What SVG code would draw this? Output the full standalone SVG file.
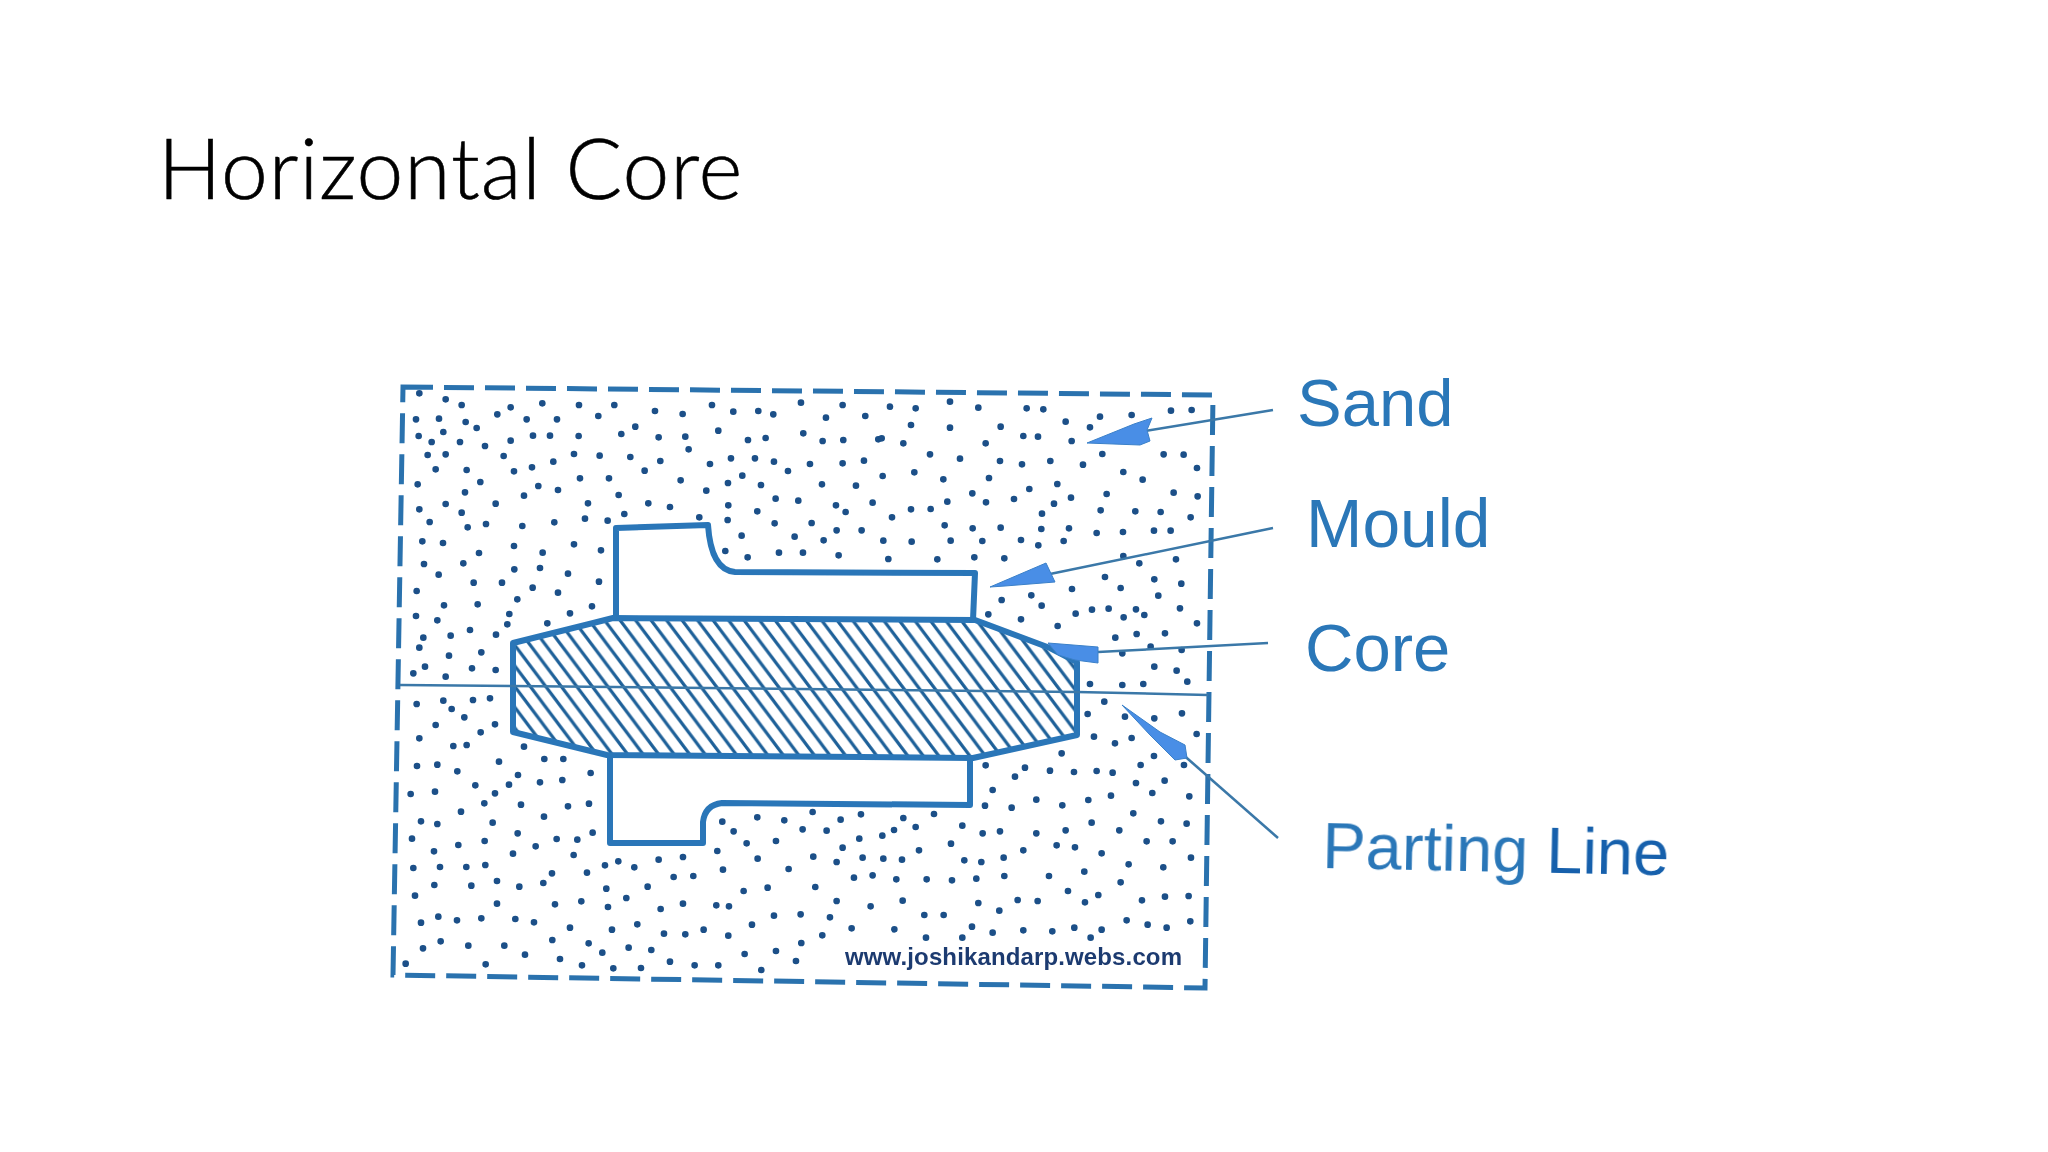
<svg xmlns="http://www.w3.org/2000/svg" width="2048" height="1152" viewBox="0 0 2048 1152">
<style>
.lbl{font-family:"Liberation Sans",Arial,sans-serif;fill:#2b77b8}
.dots{fill:none;stroke:#1a5088;stroke-width:20;stroke-linecap:round}
.edge{fill:none;stroke:#2a76b8;stroke-width:6;stroke-linejoin:round}
.lead{fill:none;stroke:#3a78a8;stroke-width:2.500}
.head{fill:#4a8ee6;stroke:#3a80c8;stroke-width:1}
</style>
<defs>
<filter id="soft" x="-2%" y="-2%" width="104%" height="104%"><feGaussianBlur stdDeviation="0.7"/></filter>
<clipPath id="coreClip"><path d="M513 643L613 618L975 620L1077 662V735L973 758L607 755L513 732Z"/></clipPath>
<pattern id="hatch" width="15.500" height="20.670" patternUnits="userSpaceOnUse">
<path d="M-1.500 -2L17 22.670M14 -2L32.500 22.670M-17 -2L1.500 22.670" stroke="#1f6199" stroke-width="3.200" fill="none"/>
</pattern>
</defs>
<rect width="2048" height="1152" fill="#fff"/>
<text id="title" x="158" y="199" font-family="Lato,'Open Sans',sans-serif" font-weight="300" font-size="84" letter-spacing="0.950" stroke="#000" stroke-width="0.600" fill="#000">Horizontal Core</text>
<g filter="url(#soft)">
<g id="sand">
<path d="M403 387L1213 395L1205 988L393 975Z" fill="none" stroke="#2a72ae" stroke-width="5" stroke-dasharray="30 11"/>
<path class="dots" transform="translate(380,360) scale(.3333)" d="M118 100h.01M197 118h.01M245 135h.01M392 142h.01M352 163h.01M487 130h.01M597 135h.01M703 135h.01M825 153h.01M908 162h.01M996 135h.01M1060 155h.01M1135 153h.01M1180 163h.01M1263 128h.01M1338 173h.01M1388 135h.01M1456 168h.01M108 178h.01M177 176h.01M257 186h.01M290 204h.01M440 178h.01M531 178h.01M655 168h.01M766 200h.01M1015 212h.01M1270 220h.01M116 228h.01M190 216h.01M155 246h.01M240 246h.01M315 258h.01M392 242h.01M459 227h.01M510 227h.01M596 228h.01M724 222h.01M836 232h.01M916 230h.01M926 268h.01M1104 240h.01M1157 234h.01M1328 243h.01M1390 240h.01M1495 238h.01M143 285h.01M197 283h.01M371 288h.01M582 282h.01M659 287h.01M751 291h.01M841 303h.01M1053 295h.01M1125 295h.01M1182 305h.01M1290 312h.01M1388 310h.01M1452 302h.01M167 328h.01M260 330h.01M402 334h.01M456 322h.01M520 305h.01M794 332h.01M990 312h.01M1224 333h.01M1087 347h.01M113 373h.01M301 366h.01M475 378h.01M534 390h.01M600 355h.01M687 355h.01M902 361h.01M979 392h.01M1044 369h.01M1143 375h.01M1326 373h.01M1428 377h.01M255 397h.01M432 407h.01M716 405h.01M1187 416h.01M1255 422h.01M1368 436h.01M1478 428h.01M118 448h.01M197 432h.01M347 431h.01M624 430h.01M805 430h.01M870 441h.01M1045 436h.01M1132 454h.01M1397 456h.01M245 458h.01M149 486h.01M263 502h.01M318 492h.01M427 498h.01M523 487h.01M615 476h.01M683 482h.01M733 462h.01M958 472h.01M1043 480h.01M1184 490h.01M1295 489h.01M1370 511h.01M1445 511h.01M127 544h.01M189 549h.01M402 558h.01M582 553h.01M663 571h.01M1085 527h.01M1244 530h.01M1331 541h.01M297 579h.01M488 578h.01M1036 573h.01M1103 592h.01M1197 578h.01M1269 578h.01M1376 586h.01M250 610h.01M403 628h.01M480 624h.01M132 612h.01M176 644h.01M564 641h.01M281 668h.01M366 668h.01M657 665h.01M458 683h.01M110 693h.01M534 698h.01M412 718h.01M192 736h.01M293 733h.01M636 739h.01M570 760h.01M388 762h.01M108 768h.01M172 781h.01M382 793h.01M502 790h.01M270 810h.01M348 824h.01M212 827h.01M130 833h.01M118 863h.01M207 887h.01M304 877h.01"/>
<path class="dots" transform="translate(880,360) scale(.3333)" d="M30 140h.01M107 145h.01M210 125h.01M295 143h.01M440 145h.01M490 148h.01M660 170h.01M755 165h.01M873 152h.01M935 150h.01M557 185h.01M630 202h.01M93 195h.01M210 203h.01M362 200h.01M5 235h.01M70 250h.01M317 250h.01M430 228h.01M474 230h.01M575 243h.01M150 283h.01M240 296h.01M360 303h.01M426 313h.01M511 303h.01M609 314h.01M667 282h.01M851 283h.01M911 284h.01M951 324h.01M730 336h.01M788 359h.01M103 337h.01M8 348h.01M190 358h.01M327 354h.01M532 372h.01M448 387h.01M680 402h.01M881 398h.01M953 409h.01M277 400h.01M318 427h.01M402 417h.01M202 425h.01M573 413h.01M522 431h.01M93 448h.01M152 447h.01M36 472h.01M486 461h.01M662 451h.01M766 454h.01M842 456h.01M932 472h.01M194 496h.01M278 505h.01M362 503h.01M484 507h.01M567 505h.01M650 519h.01M729 516h.01M822 512h.01M872 512h.01M10 542h.01M95 545h.01M212 542h.01M307 543h.01M423 540h.01M475 556h.01M551 543h.01M25 597h.01M172 598h.01M283 592h.01M373 595h.01M888 598h.01M730 588h.01M778 610h.01M675 651h.01M823 658h.01M904 671h.01M722 684h.01M576 687h.01M835 707h.01M454 706h.01M365 720h.01M485 737h.01M325 763h.01M423 778h.01M587 761h.01M636 749h.01M686 746h.01M731 772h.01M768 748h.01M793 765h.01M900 745h.01M533 798h.01M951 790h.01M706 833h.01M770 822h.01M855 820h.01M812 860h.01M905 870h.01M727 880h.01"/>
<path class="dots" transform="translate(380,660) scale(.3333)" d="M100 40h.01M135 20h.01M197 50h.01M276 25h.01M347 30h.01M110 132h.01M190 122h.01M279 120h.01M330 115h.01M215 147h.01M253 172h.01M167 195h.01M345 193h.01M302 217h.01M118 235h.01M220 258h.01M260 255h.01M432 260h.01M493 297h.01M550 297h.01M357 305h.01M111 318h.01M172 314h.01M232 334h.01M632 339h.01M414 345h.01M480 367h.01M547 360h.01M387 374h.01M286 376h.01M345 400h.01M92 402h.01M165 395h.01M313 430h.01M423 434h.01M564 439h.01M627 431h.01M243 455h.01M492 470h.01M123 484h.01M172 492h.01M338 488h.01M413 520h.01M638 518h.01M96 536h.01M530 537h.01M592 539h.01M235 555h.01M314 543h.01M467 559h.01M162 574h.01M399 581h.01M581 585h.01M1027 485h.01M1061 514h.01M1132 472h.01M1213 481h.01M1268 508h.01M1340 512h.01M1382 479h.01M1443 463h.01M1298 456h.01M1100 550h.01M1188 543h.01M1438 536h.01M1388 563h.01M1012 573h.01M1133 596h.01M1300 590h.01M1448 593h.01M1370 606h.01M100 624h.01M180 621h.01M259 621h.01M316 615h.01M675 616h.01M715 604h.01M763 622h.01M836 599h.01M909 591h.01M1029 629h.01M1226 627h.01M516 640h.01M621 638h.01M881 651h.01M940 648h.01M1422 653h.01M1478 646h.01M163 675h.01M274 677h.01M351 663h.01M418 680h.01M490 669h.01M679 686h.01M803 680h.01M1091 693h.01M1163 683h.01M1306 681h.01M105 707h.01M351 731h.01M525 733h.01M604 724h.01M739 714h.01M684 741h.01M909 731h.01M1009 736h.01M1047 739h.01M842 747h.01M1370 723h.01M1472 739h.01M175 770h.01M304 775h.01M406 777h.01M462 787h.01M123 788h.01M231 781h.01M1182 767h.01M1262 763h.01M1350 772h.01M570 803h.01M772 793h.01M696 809h.01M1116 794h.01M1415 805h.01M852 821h.01M916 823h.01M971 809h.01M1045 827h.01M1327 826h.01M517 840h.01M182 844h.01M265 857h.01M373 857h.01M129 865h.01M626 850h.01M746 863h.01M814 870h.01M667 878h.01M1264 849h.01M1188 873h.01M1094 882h.01M435 884h.01M540 897h.01M870 905h.01M944 916h.01M1015 916h.01M1248 903h.01M606 916h.01M700 925h.01M783 924h.01M1144 930h.01M317 913h.01M77 911h.01"/>
<path class="dots" transform="translate(800,660) scale(.3333)" d="M1063 20h.01M1130 32h.01M1162 65h.01M870 72h.01M967 75h.01M1030 72h.01M913 125h.01M863 162h.01M1146 160h.01M1190 222h.01M995 234h.01M882 230h.01M945 250h.01M975 170h.01M1063 175h.01M785 280h.01M1062 288h.01M1022 315h.01M1152 315h.01M557 316h.01M675 323h.01M645 350h.01M750 332h.01M822 336h.01M890 333h.01M938 338h.01M1008 369h.01M1094 362h.01M1057 399h.01M578 390h.01M709 419h.01M787 436h.01M865 420h.01M933 407h.01M1168 409h.01M555 437h.01M635 443h.01M1000 460h.01M1083 484h.01M875 488h.01M1160 491h.01M310 474h.01M402 462h.01M347 501h.01M282 510h.01M487 497h.01M247 527h.01M548 520h.01M600 514h.01M709 520h.01M797 511h.01M958 511h.01M453 551h.01M1040 544h.01M1118 544h.01M770 556h.01M825 562h.01M670 571h.01M357 571h.01M905 580h.01M1173 593h.01M493 601h.01M544 606h.01M611 593h.01M250 596h.01M306 599h.01M986 613h.01M1090 622h.01M853 635h.01M289 658h.01M380 658h.01M456 661h.01M529 656h.01M613 648h.01M747 648h.01M962 667h.01M804 693h.01M895 705h.01M855 727h.01M308 722h.01M535 729h.01M653 720h.01M713 723h.01M1026 721h.01M1095 710h.01M1166 708h.01M598 752h.01M373 765h.01M431 765h.01M980 781h.01M1043 794h.01M1100 803h.01M1171 784h.01M283 808h.01M516 800h.01M670 811h.01M757 814h.01M823 803h.01M905 809h.01M578 818h.01M378 833h.01M487 833h.01M872 833h.01"/>
</g>
<g id="mould">
<path class="edge" d="M616 618V528L708 525Q711 570 735 572L975 573L973 620"/>
<path class="edge" d="M610 755V843H703V822Q705 805 722 803L970 805V758"/>
</g>
<g id="core">
<path d="M513 643L613 618L975 620L1077 662V735L973 758L607 755L513 732Z" fill="#fff"/>
<rect x="500" y="610" width="590" height="160" fill="url(#hatch)" clip-path="url(#coreClip)"/>
<path class="edge" d="M513 643L613 618L975 620L1050 648L1077 662V735L973 758L607 755L513 732Z"/>
</g>
<g id="connectors">
<path class="lead" d="M400 685L513 686"/>
<path class="lead" stroke-width="4" d="M513 686L1077 692"/>
<path class="lead" d="M1077 692L1208 695"/>
<path class="lead" d="M1273 410L1145 431"/>
<path class="head" d="M1087 443L1134 424L1152 418L1147 430L1150 441L1140 445Z"/>
<path class="lead" d="M1273 528L1050 574"/>
<path class="head" d="M990 587L1046 563L1055 582L1005 586Z"/>
<path class="lead" d="M1268 643L1098 652"/>
<path class="head" d="M1048 643L1098 647L1098 663L1075 660L1058 655Z"/>
<path class="lead" d="M1278 838L1180 752"/>
<path class="head" d="M1122 705L1160 732L1185 745L1187 758L1175 760L1150 735Z"/>
</g>
<text class="lbl" x="1297" y="426" font-size="67">Sand</text>
<text class="lbl" x="1306" y="547" font-size="67.700">Mould</text>
<text class="lbl" x="1305" y="671" font-size="67">Core</text>
<text class="lbl" transform="rotate(1.2 1322 868)" x="1322" y="868" font-size="65">Parting <tspan fill="#1560ac">Line</tspan></text>
<text x="845" y="965" font-family="'Liberation Sans',Arial,sans-serif" font-weight="700" font-size="24" fill="#1d3a70" textLength="337">www.joshikandarp.webs.com</text>
</g>
</svg>
